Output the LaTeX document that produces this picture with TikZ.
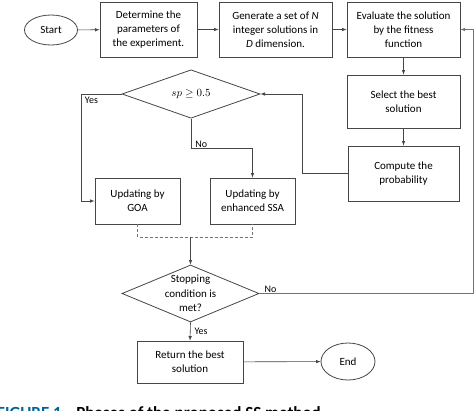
\documentclass[tikz,border=0pt]{standalone}
\usepackage{fontspec}
\setmainfont{Carlito}
\usepackage{amsmath,amssymb}
\usepackage{tikz}
\usetikzlibrary{shapes.geometric}
\usetikzlibrary{arrows}
\definecolor{capblue}{RGB}{0,98,155}
\definecolor{linegray}{RGB}{70,70,70}

\tikzset{
  procbox/.style={draw=linegray, line width=0.8pt, rectangle, align=center, inner sep=1pt,
    font=\fontsize{11}{14}\selectfont},
  termnode/.style={draw=linegray, line width=0.8pt, ellipse, inner sep=0pt,
    font=\fontsize{11}{14}\selectfont},
  decide/.style={draw=linegray, line width=0.8pt, diamond, inner sep=0pt,
    font=\fontsize{11}{14}\selectfont},
  flow/.style={draw=linegray, line width=0.6pt, -latex},
  lbl/.style={font=\fontsize{10}{12}\selectfont, inner sep=1pt},
}

\begin{document}
\begin{tikzpicture}[x=1pt,y=-1pt]
    \clip (0,0) rectangle (474,410);
    \fill[white] (0,0) rectangle (474,410);
    \node[termnode, minimum width=53pt, minimum height=30pt] (start) at (51,30) {Start};
    \node[procbox, minimum width=97pt, minimum height=55pt] (params) at (148.5,29.5)
      {Determine the\\parameters of\\the experiment.};
    \node[procbox, minimum width=113pt, minimum height=55pt] (generate) at (275.5,29.5)
      {Generate a set of \textit{N}\\integer solutions in\\\textit{D} dimension.};
    \node[procbox, minimum width=113pt, minimum height=55pt] (evaluate) at (403.5,29.5)
      {Evaluate the solution\\by the fitness\\function};
    \node[procbox, minimum width=113pt, minimum height=53pt] (select) at (403.5,101.5)
      {Select the best\\solution};
    \node[procbox, minimum width=111pt, minimum height=55pt] (prob) at (403.5,173.5)
      {Compute the\\probability};
    \node[decide, minimum width=138pt, minimum height=48pt] (cond) at (191,94)
      {$sp \geq 0.5$};
    \node[procbox, minimum width=85pt, minimum height=46pt] (goa) at (137.5,201)
      {Updating by\\GOA};
    \node[procbox, minimum width=85pt, minimum height=46pt] (ssa) at (252.5,201)
      {Updating by\\enhanced SSA};
    \node[decide, minimum width=137pt, minimum height=57pt,
      label={[align=center, font=\fontsize{11}{14.5}\selectfont]center:Stopping\\condition is\\met?}]
      (stop) at (190.5,293.5) {};
    \node[procbox, minimum width=106pt, minimum height=42pt] (ret) at (190,362)
      {Return the best\\solution};
    \node[termnode, minimum width=54pt, minimum height=37pt] (finish) at (348,361.5) {End};

    \draw[flow] (start) -- (params);
    \draw[flow] (params) -- (generate);
    \draw[flow] (generate) -- (evaluate);
    \draw[flow] (evaluate) -- (select);
    \draw[flow] (select) -- (prob);
    \draw[flow] (prob.west) -- ++(-45,0) |- (cond.east);
    \draw[flow] (cond.west) -- ++(-40,0) node[lbl, pos=1, anchor=north west, xshift=2pt, yshift=-2pt] {Yes}
      |- (goa.west);
    \draw[flow] (cond.south) -- ++(0,30) node[lbl, pos=1, anchor=south west, xshift=3pt] {No}
      -| (ssa.north);
    \draw[draw=black!55, line width=0.6pt, densely dashed] (goa.south) -- ++(0,13) coordinate (gjoin)
      -| (ssa.south);
    \coordinate (merge) at (stop.north |- gjoin);
    \draw[flow] (merge) -- (stop.north);
    \draw[flow, draw=black!55] (stop.east) -- ++(214,0) node[lbl, pos=0, anchor=south west, xshift=4pt] {No}
      |- (evaluate.east);
    \draw[flow] (stop.south) -- (ret.north) node[lbl, midway, anchor=west, xshift=3pt] {Yes};
    \draw[flow] (ret) -- (finish);

    \node[anchor=base west, inner sep=0pt, font=\bfseries\fontsize{17}{20}\selectfont] (caption) at (-3,418)
      {\textcolor{capblue}{FIGURE 1.}\hspace{10pt}Phases of the proposed SS method};
\end{tikzpicture}
\end{document}
